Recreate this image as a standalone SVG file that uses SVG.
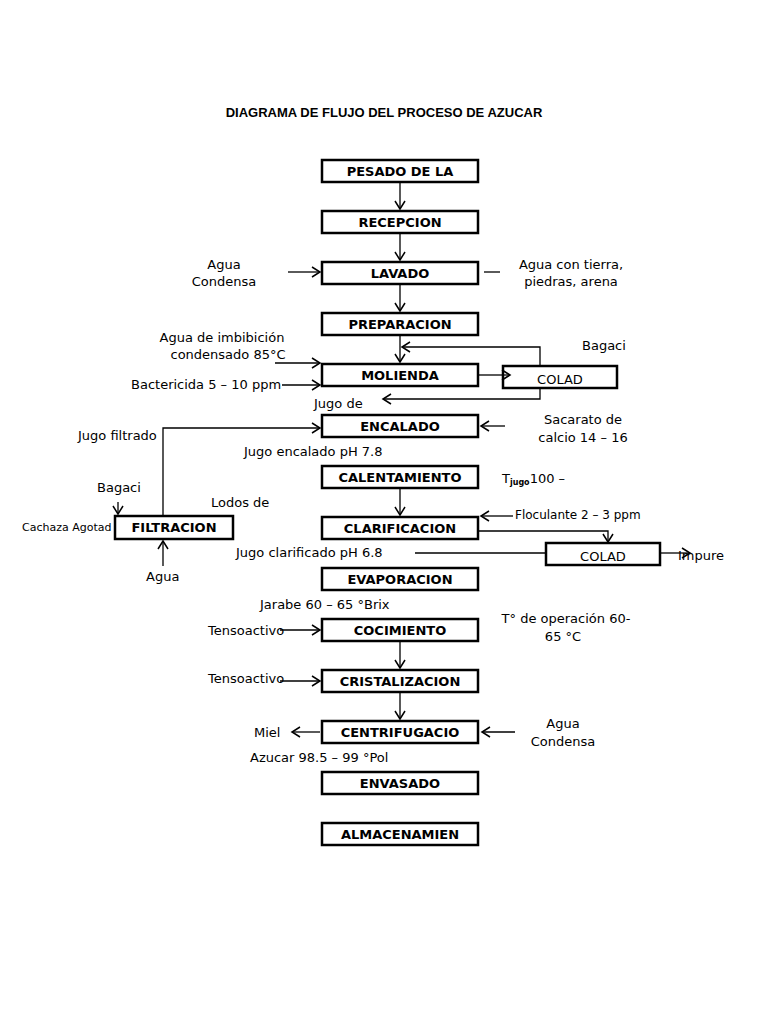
<svg xmlns="http://www.w3.org/2000/svg" width="768" height="1024" viewBox="0 0 768 1024">
<defs><marker id="a" markerWidth="12" markerHeight="12" refX="10" refY="6" orient="auto" markerUnits="userSpaceOnUse"><path d="M2,1 L10,6 L2,11" fill="none" stroke="#000" stroke-width="1.5"/></marker></defs>
<style>
.b{fill:#fff;stroke:#000;stroke-width:2.5}
.t{font-family:"DejaVu Sans",sans-serif;font-size:13px;font-weight:bold;text-anchor:middle}
.l{font-family:"DejaVu Sans",sans-serif;font-size:13px}
.c{fill:none;stroke:#000;stroke-width:1.3}
</style>
<rect width="768" height="1024" fill="#fff"/>
<text x="384" y="117" style="font-family:'Liberation Sans',sans-serif;font-size:13px;font-weight:bold" text-anchor="middle">DIAGRAMA DE FLUJO DEL PROCESO DE AZUCAR</text>
<g id="n1"><rect class="b" x="322" y="160" width="156" height="22"/><text class="t" x="400" y="176">PESADO DE LA</text></g>
<g id="n2"><rect class="b" x="322" y="211" width="156" height="22"/><text class="t" x="400" y="227">RECEPCION</text></g>
<g id="n3"><rect class="b" x="322" y="262" width="156" height="22"/><text class="t" x="400" y="278">LAVADO</text></g>
<g id="n4"><rect class="b" x="322" y="313" width="156" height="22"/><text class="t" x="400" y="329">PREPARACION</text></g>
<g id="n5"><rect class="b" x="322" y="364" width="156" height="22"/><text class="t" x="400" y="380">MOLIENDA</text></g>
<g id="n6"><rect class="b" x="322" y="415" width="156" height="22"/><text class="t" x="400" y="431">ENCALADO</text></g>
<g id="n7"><rect class="b" x="322" y="466" width="156" height="22"/><text class="t" x="400" y="482">CALENTAMIENTO</text></g>
<g id="n8"><rect class="b" x="322" y="517" width="156" height="22"/><text class="t" x="400" y="533">CLARIFICACION</text></g>
<g id="n9"><rect class="b" x="322" y="568" width="156" height="22"/><text class="t" x="400" y="584">EVAPORACION</text></g>
<g id="n10"><rect class="b" x="322" y="619" width="156" height="22"/><text class="t" x="400" y="635">COCIMIENTO</text></g>
<g id="n11"><rect class="b" x="322" y="670" width="156" height="22"/><text class="t" x="400" y="686">CRISTALIZACION</text></g>
<g id="n12"><rect class="b" x="322" y="721" width="156" height="22"/><text class="t" x="400" y="737">CENTRIFUGACIO</text></g>
<g id="n13"><rect class="b" x="322" y="772" width="156" height="22"/><text class="t" x="400" y="788">ENVASADO</text></g>
<g id="n14"><rect class="b" x="322" y="823" width="156" height="22"/><text class="t" x="400" y="839">ALMACENAMIEN</text></g>
<g id="colad1"><rect class="b" x="503" y="366" width="114" height="22"/><text class="t" x="560" y="384" style="font-weight:normal">COLAD</text></g>
<g id="colad2"><rect class="b" x="546" y="543" width="114" height="22"/><text class="t" x="603" y="561" style="font-weight:normal">COLAD</text></g>
<g id="filt"><rect class="b" x="115" y="516" width="118" height="23"/><text class="t" x="174" y="532">FILTRACION</text></g>
<g id="connectors">
<path class="c" marker-end="url(#a)" d="M400,182V209"/>
<path class="c" marker-end="url(#a)" d="M400,233V260"/>
<path class="c" marker-end="url(#a)" d="M400,284V311"/>
<path class="c" marker-end="url(#a)" d="M400,335V362"/>
<path class="c" marker-end="url(#a)" d="M400,488V515"/>
<path class="c" marker-end="url(#a)" d="M400,641V668"/>
<path class="c" marker-end="url(#a)" d="M400,692V719"/>
<path class="c" marker-end="url(#a)" d="M288,272H320"/>
<path class="c" d="M484,272H500"/>
<path class="c" marker-end="url(#a)" d="M275,363H320"/>
<path class="c" marker-end="url(#a)" d="M282,385H320"/>
<path class="c" marker-end="url(#a)" d="M478,375H510"/>
<path class="c" marker-end="url(#a)" d="M540,366V347H402"/>
<path class="c" marker-end="url(#a)" d="M540,388V399H383"/>
<path class="c" marker-end="url(#a)" d="M163,516V428H320"/>
<path class="c" marker-end="url(#a)" d="M505,426H481"/>
<path class="c" marker-end="url(#a)" d="M118,502V514"/>
<path class="c" marker-end="url(#a)" d="M163,566V541"/>
<path class="c" marker-end="url(#a)" d="M513,516H481"/>
<path class="c" marker-end="url(#a)" d="M478,531H608V542"/>
<path class="c" marker-end="url(#a)" d="M660,553H690"/>
<path class="c" d="M546,553H415"/>
<path class="c" marker-end="url(#a)" d="M280,630H320"/>
<path class="c" marker-end="url(#a)" d="M280,681H320"/>
<path class="c" marker-end="url(#a)" d="M320,732H292"/>
<path class="c" marker-end="url(#a)" d="M515,732H482"/>
</g>
<g class="l">
<text x="224" y="269" text-anchor="middle">Agua</text><text x="224" y="286" text-anchor="middle">Condensa</text>
<text x="571" y="269" text-anchor="middle">Agua con tierra,</text><text x="571" y="286" text-anchor="middle">piedras, arena</text>
<text x="222" y="342" text-anchor="middle">Agua de imbibición</text><text x="228" y="359" text-anchor="middle">condensado 85°C</text>
<text x="131" y="389">Bactericida 5 – 10 ppm</text>
<text x="582" y="350">Bagaci</text>
<text x="314" y="408">Jugo de</text>
<text x="583" y="424" text-anchor="middle">Sacarato de</text><text x="583" y="442" text-anchor="middle">calcio 14 – 16</text>
<text x="78" y="440">Jugo filtrado</text>
<text x="244" y="456">Jugo encalado pH 7.8</text>
<text x="502" y="483">T<tspan font-size="8" font-weight="bold" dy="2">jugo</tspan><tspan dy="-2">100 –</tspan></text>
<text x="97" y="492">Bagaci</text>
<text x="211" y="507">Lodos de</text>
<text x="22" y="531" font-size="11">Cachaza Agotad</text>
<text x="515" y="519" font-size="12">Floculante 2 – 3 ppm</text>
<text x="236" y="557">Jugo clarificado pH 6.8</text>
<text x="678" y="560">Impure</text>
<text x="146" y="581">Agua</text>
<text x="260" y="609">Jarabe 60 – 65 °Brix</text>
<text x="208" y="635">Tensoactivo</text>
<text x="566" y="623" text-anchor="middle">T° de operación 60-</text><text x="563" y="641" text-anchor="middle">65 °C</text>
<text x="208" y="683">Tensoactivo</text>
<text x="254" y="737">Miel</text>
<text x="563" y="728" text-anchor="middle">Agua</text><text x="563" y="746" text-anchor="middle">Condensa</text>
<text x="250" y="762">Azucar 98.5 – 99 °Pol</text>
</g>
</svg>
